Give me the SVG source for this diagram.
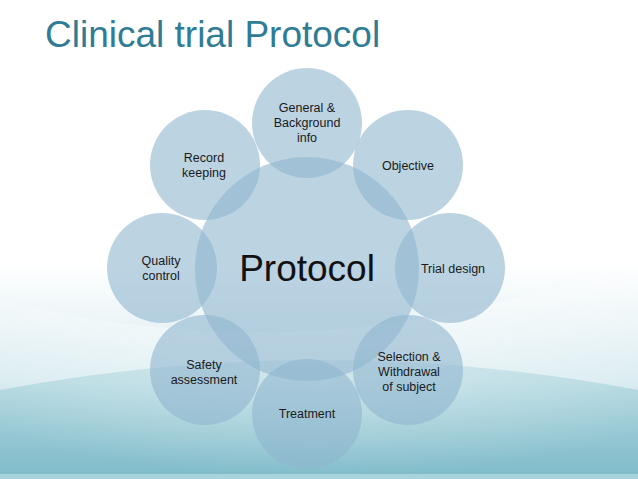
<svg xmlns="http://www.w3.org/2000/svg" width="638" height="479" viewBox="0 0 638 479">
<defs>
<linearGradient id="bg" x1="0" y1="0" x2="0" y2="1">
<stop offset="0" stop-color="#ffffff"/><stop offset="0.55" stop-color="#ffffff"/><stop offset="0.8" stop-color="#d6eaef"/><stop offset="1" stop-color="#6fb1c2"/>
</linearGradient>
<radialGradient id="glow" cx="0.5" cy="0.3" r="0.7">
<stop offset="0" stop-color="#ffffff" stop-opacity="0.9"/><stop offset="1" stop-color="#ffffff" stop-opacity="0"/>
</radialGradient>
<style>
.c{fill:#8fb6cf;fill-opacity:0.6}
.t{font-family:"Liberation Sans",Arial,sans-serif;font-size:12.5px;fill:#1a1a1a;text-anchor:middle}
</style>
</defs>
<rect width="638" height="479" fill="url(#bg)"/>
<path d="M0,390 Q320,330 638,390 L638,479 L0,479Z" fill="#8cc3d0" opacity="0.5"/>
<path d="M0,300 Q320,380 638,260 L638,479 L0,479Z" fill="url(#glow)" opacity="0.6"/>
<rect y="474" width="638" height="5" fill="#a9d3dd"/>
<text x="45" y="47" font-family="Liberation Sans,Arial,sans-serif" font-size="37" fill="#2f7c95">Clinical trial Protocol</text>
<g id="center"><circle class="c" cx="307" cy="269" r="112"/><text x="307" y="281" font-family="Liberation Sans,Arial,sans-serif" font-size="37" fill="#111" text-anchor="middle">Protocol</text></g>
<g id="general"><circle class="c" cx="307" cy="123" r="55"/><text class="t" x="307" y="112">General &amp;</text><text class="t" x="307" y="127">Background</text><text class="t" x="307" y="142">info</text></g>
<g id="objective"><circle class="c" cx="408" cy="165" r="55"/><text class="t" x="408" y="170">Objective</text></g>
<g id="trial"><circle class="c" cx="450" cy="268" r="55"/><text class="t" x="453" y="273">Trial design</text></g>
<g id="selection"><circle class="c" cx="408" cy="370" r="55"/><text class="t" x="409" y="361">Selection &amp;</text><text class="t" x="409" y="376">Withdrawal</text><text class="t" x="409" y="391">of subject</text></g>
<g id="treatment"><circle class="c" cx="307" cy="414" r="55"/><text class="t" x="307" y="418">Treatment</text></g>
<g id="safety"><circle class="c" cx="205" cy="370" r="55"/><text class="t" x="204" y="369">Safety</text><text class="t" x="204" y="384">assessment</text></g>
<g id="quality"><circle class="c" cx="162" cy="268" r="55"/><text class="t" x="161" y="265">Quality</text><text class="t" x="161" y="280">control</text></g>
<g id="record"><circle class="c" cx="205" cy="165" r="55"/><text class="t" x="204" y="162">Record</text><text class="t" x="204" y="177">keeping</text></g>
<g id="connectors"/>
</svg>
